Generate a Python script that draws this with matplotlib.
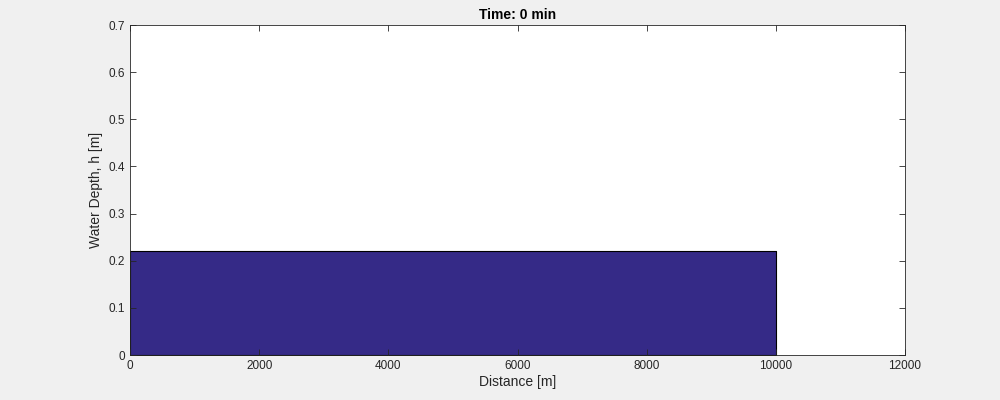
import matplotlib
matplotlib.use("Agg")
import matplotlib.pyplot as plt

distance = [0, 10000]
depth = [0.22, 0.22]
xticks = [0, 2000, 4000, 6000, 8000, 10000, 12000]
yticks = [0, 0.1, 0.2, 0.3, 0.4, 0.5, 0.6, 0.7]

plt.rcParams['font.family'] = ['Liberation Sans', 'DejaVu Sans']
fig = plt.figure(figsize=(10, 4), dpi=100, facecolor='#f0f0f0')
ax = fig.add_axes([0.13, 0.1125, 0.775, 0.825])
ax.fill_between(distance, [0, 0], depth, facecolor='#352a87', edgecolor='black', linewidth=0.8)
ax.set_xlim(0, 12000)
ax.set_ylim(0, 0.7)
ax.set_xticks(xticks)
ax.set_yticks(yticks)
ax.set_yticklabels([f"{v:g}" for v in yticks])
ax.tick_params(direction='in', top=True, right=True, labelsize=8.5, colors='#262626', length=4, width=0.6)
for s in ax.spines.values():
    s.set_color('#262626'); s.set_linewidth(0.6)
ax.set_xlabel('Distance [m]', fontsize=10, color='#262626', labelpad=2)
ax.set_ylabel('Water Depth, h [m]', fontsize=10, color='#262626')
ax.set_title('Time: 0 min', fontsize=10, fontweight='bold', pad=4)
fig.savefig('out.png', facecolor=fig.get_facecolor())
